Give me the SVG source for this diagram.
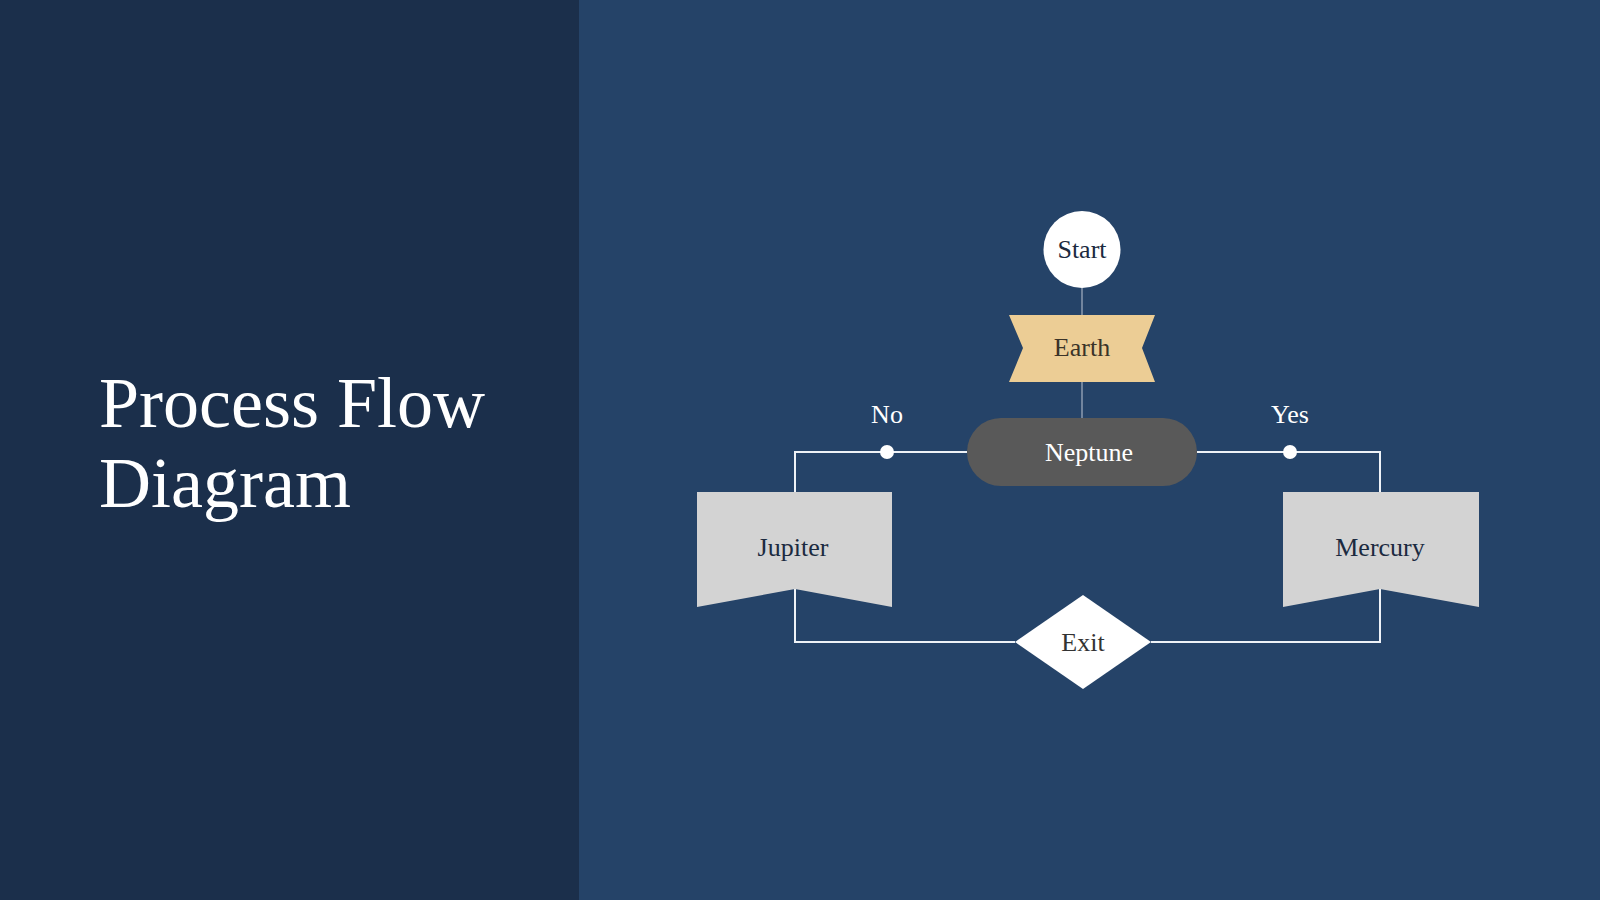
<svg xmlns="http://www.w3.org/2000/svg" width="1600" height="900" viewBox="0 0 1600 900">
  <style>
    .lbl { font-family: "Liberation Serif", "DejaVu Serif", serif; font-size: 26px; text-anchor: middle; }
    .title { font-family: "Liberation Serif", "DejaVu Serif", serif; font-size: 72px; fill: #ffffff; }
    .wire { fill: none; stroke: #eef2f7; stroke-width: 2; }
    .stem { fill: none; stroke: #8d9bb0; stroke-width: 1.5; }
  </style>
  <rect x="0" y="0" width="1600" height="900" fill="#254368"/>
  <rect x="0" y="0" width="579" height="900" fill="#1b2f4b"/>
  <g id="title">
    <text class="title" x="99" y="427">Process Flow</text>
    <text class="title" x="99" y="507">Diagram</text>
  </g>
  <g id="connectors">
    <line class="stem" x1="1082" y1="288" x2="1082" y2="315"/>
    <line class="stem" x1="1082" y1="382" x2="1082" y2="418"/>
    <polyline class="wire" points="967,452 795,452 795,492"/>
    <polyline class="wire" points="1197,452 1380,452 1380,492"/>
    <polyline class="wire" points="795,589 795,642 1015,642"/>
    <polyline class="wire" points="1380,589 1380,642 1151,642"/>
    <circle cx="887" cy="452" r="7" fill="#ffffff"/>
    <circle cx="1290" cy="452" r="7" fill="#ffffff"/>
    <text class="lbl" x="887" y="423" fill="#ffffff" font-size="25">No</text>
    <text class="lbl" x="1290" y="423" fill="#ffffff" font-size="25">Yes</text>
  </g>
  <g id="start">
    <circle cx="1082" cy="249.5" r="38.5" fill="#ffffff"/>
    <text class="lbl" x="1082" y="258" fill="#1b2a40">Start</text>
  </g>
  <g id="earth">
    <polygon points="1009,315 1155,315 1142,348 1155,382 1009,382 1023,348" fill="#eccd95"/>
    <text class="lbl" x="1082" y="356" fill="#3a3328">Earth</text>
  </g>
  <g id="neptune">
    <rect x="967" y="418" width="230" height="68" rx="34" fill="#595959"/>
    <text class="lbl" x="1089" y="461" fill="#ffffff">Neptune</text>
  </g>
  <g id="jupiter">
    <polygon points="697,492 892,492 892,607 795,589 697,607" fill="#d3d3d3"/>
    <text class="lbl" x="793" y="556" fill="#1b2a40">Jupiter</text>
  </g>
  <g id="mercury">
    <polygon points="1283,492 1479,492 1479,607 1380,589 1283,607" fill="#d3d3d3"/>
    <text class="lbl" x="1380" y="556" fill="#1b2a40">Mercury</text>
  </g>
  <g id="exit">
    <polygon points="1083,595 1151,642 1083,689 1015,642" fill="#ffffff"/>
    <text class="lbl" x="1083" y="651" fill="#333333">Exit</text>
  </g>
</svg>
